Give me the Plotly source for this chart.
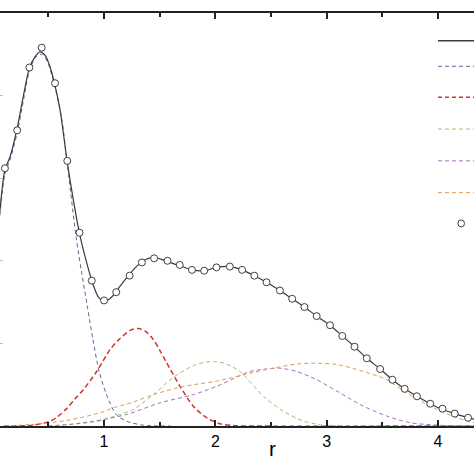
import plotly.graph_objects as go

# measured points (open circles)
r_pts = [0.11, 0.22, 0.33, 0.44, 0.56, 0.67, 0.78, 0.89, 1.00, 1.11, 1.23, 1.34, 1.45,
         1.57, 1.68, 1.79, 1.90, 2.01, 2.13, 2.24, 2.35, 2.46, 2.58, 2.69, 2.80, 2.91,
         3.03, 3.14, 3.25, 3.36, 3.48, 3.59, 3.70, 3.81, 3.93, 4.04, 4.15, 4.27]
g_pts = [3.12, 3.58, 4.34, 4.58, 4.15, 3.21, 2.34, 1.76, 1.52, 1.62, 1.82, 1.98, 2.03,
         2.00, 1.95, 1.89, 1.88, 1.92, 1.93, 1.89, 1.82, 1.74, 1.64, 1.54, 1.44, 1.33,
         1.22, 1.09, 0.96, 0.82, 0.69, 0.56, 0.45, 0.36, 0.27, 0.21, 0.15, 0.10]

# total fit (solid)
r_fit = [0.065, 0.11, 0.156, 0.216, 0.275, 0.329, 0.38, 0.425, 0.47, 0.515, 0.557, 0.605,
         0.668, 0.724, 0.78, 0.84, 0.90, 0.95, 1.00, 1.06, 1.11, 1.17, 1.23, 1.29, 1.34,
         1.40, 1.45, 1.51, 1.57, 1.68, 1.79, 1.90, 2.01, 2.13, 2.24, 2.35, 2.46, 2.58,
         2.69, 2.80, 2.91, 3.03, 3.14, 3.25, 3.36, 3.48, 3.59, 3.70, 3.81, 3.93, 4.04,
         4.15, 4.27, 4.33]
g_fit = [2.60, 3.10, 3.26, 3.58, 3.99, 4.33, 4.47, 4.53, 4.49, 4.35, 4.14, 3.83,
         3.21, 2.74, 2.33, 2.00, 1.72, 1.56, 1.51, 1.55, 1.63, 1.74, 1.84, 1.93, 1.99,
         2.03, 2.04, 2.02, 1.99, 1.94, 1.89, 1.88, 1.92, 1.93, 1.89, 1.82, 1.74, 1.64,
         1.54, 1.44, 1.33, 1.22, 1.09, 0.96, 0.82, 0.69, 0.56, 0.45, 0.36, 0.27, 0.20,
         0.15, 0.10, 0.08]

# partial components (dashed)
r_blue = [0.065, 0.11, 0.16, 0.22, 0.28, 0.33, 0.39, 0.45, 0.50, 0.56, 0.62, 0.67, 0.75,
          0.80, 0.85, 0.90, 0.96, 1.04, 1.11, 1.20, 1.35, 1.60]
g_blue = [2.55, 3.05, 3.24, 3.55, 3.97, 4.30, 4.47, 4.50, 4.38, 4.10, 3.72, 3.18, 2.28,
          1.85, 1.45, 1.05, 0.64, 0.32, 0.14, 0.06, 0.01, 0.0]

r_red = [0.10, 0.20, 0.365, 0.515, 0.58, 0.665, 0.74, 0.814, 0.934, 1.054, 1.129, 1.24,
         1.308, 1.37, 1.443, 1.50, 1.563, 1.683, 1.802, 1.922, 2.042, 2.16, 2.30, 4.33]
g_red = [0.0, 0.003, 0.01, 0.058, 0.11, 0.21, 0.33, 0.44, 0.66, 0.925, 1.04, 1.16,
         1.18, 1.15, 1.046, 0.92, 0.764, 0.48, 0.24, 0.10, 0.027, 0.005, 0.0, 0.0]

r_green = [0.50, 0.784, 0.994, 1.054, 1.263, 1.443, 1.623, 1.802, 1.90, 2.00, 2.08, 2.132,
           2.222, 2.282, 2.431, 2.61, 2.79, 2.97, 3.10, 4.33]
g_green = [0.0, 0.03, 0.07, 0.10, 0.20, 0.38, 0.59, 0.73, 0.77, 0.78, 0.76, 0.73,
           0.66, 0.58, 0.36, 0.18, 0.06, 0.01, 0.0, 0.0]

r_purple = [0.50, 0.70, 0.904, 1.204, 1.503, 1.802, 2.012, 2.222, 2.31, 2.45, 2.58, 2.73,
            2.91, 3.12, 3.33, 3.54, 3.75, 4.00, 4.20, 4.33]
g_purple = [0.0, 0.02, 0.058, 0.14, 0.28, 0.38, 0.48, 0.61, 0.66, 0.69, 0.70, 0.66,
            0.56, 0.40, 0.24, 0.12, 0.04, 0.01, 0.0, 0.0]

r_orange = [0.10, 0.365, 0.665, 0.964, 1.084, 1.263, 1.443, 1.683, 1.802, 2.00, 2.13, 2.31,
            2.52, 2.73, 2.90, 3.09, 3.33, 3.54, 3.72, 3.93, 4.17, 4.33]
g_orange = [0.0, 0.02, 0.067, 0.16, 0.22, 0.29, 0.38, 0.47, 0.50, 0.54, 0.58, 0.64,
            0.70, 0.75, 0.76, 0.745, 0.66, 0.56, 0.40, 0.24, 0.10, 0.04]

x_ticks = [1, 2, 3, 4]

comps = [
    (r_blue, g_blue, "#5d6596", 1.0, "4px,3px"),
    (r_red, g_red, "#d2332e", 1.5, "5px,3px"),
    (r_green, g_green, "#93c56e", 1.0, "4px,3px"),
    (r_purple, g_purple, "#a96fb8", 1.0, "4px,3px"),
    (r_orange, g_orange, "#e39a52", 1.0, "4px,3px"),
]

fig = go.Figure()
for xs, ys, col, w, dash in comps:
    fig.add_trace(go.Scatter(x=xs, y=ys, mode="lines",
                             line=dict(color=col, width=w, dash=dash, shape="spline", smoothing=0.8)))

fig.add_trace(go.Scatter(x=r_fit, y=g_fit, mode="lines",
                         line=dict(color="#3a3a3a", width=1.2, shape="spline", smoothing=0.8)))
fig.add_trace(go.Scatter(x=r_pts, y=g_pts, mode="markers",
                         marker=dict(symbol="circle", size=7, color="white",
                                     line=dict(color="#404040", width=1))))

# legend samples (labels are outside the cropped picture)
leg_y = [0.933, 0.871, 0.796, 0.719, 0.642, 0.565]
leg_style = [("#3a3a3a", 1.5, "solid")] + [(c[2], c[3], "dash") for c in comps]
for yy, (col, w, d) in zip(leg_y, leg_style):
    fig.add_shape(type="line", xref="paper", yref="paper", x0=0.924, x1=1.0, y0=yy, y1=yy,
                  line=dict(color=col, width=w, dash="solid" if d == "solid" else "4px,3px"))
fig.add_shape(type="circle", xref="paper", yref="paper", x0=0.966, x1=0.980,
              y0=0.482, y1=0.499, line=dict(color="#404040", width=1), fillcolor="white")

fig.add_annotation(text="r", xref="paper", yref="paper", x=0.574, y=-0.086,
                   showarrow=False, font=dict(size=21, color="black", family="Arial"))

fig.update_layout(
    width=474, height=474,
    margin=dict(l=0, r=0, t=13, b=48),
    paper_bgcolor="white", plot_bgcolor="white",
    showlegend=False,
    font=dict(family="Arial", color="black"),
    xaxis=dict(range=[0.0658, 4.323], tickvals=x_ticks, ticks="inside", ticklen=6,
               tickwidth=1.5, tickcolor="#222", showline=True, linecolor="#222",
               linewidth=1.5, mirror="ticks", showgrid=False, zeroline=False,
               tickfont=dict(size=16, color="black"),
               minor=dict(dtick=0.5, tick0=0, ticks="inside", ticklen=4, tickwidth=1.5,
                          tickcolor="#222", showgrid=False)),
    yaxis=dict(range=[0, 5], dtick=1, ticks="inside", ticklen=3, tickcolor="#bbbbbb",
               showticklabels=False, showline=False, showgrid=False, zeroline=False),
)

# page has a default 8px body margin; drop it so the figure sits at the window corner
fig.write_html("out.html", config={"displayModeBar": False},
               post_script="document.body.style.margin='0';")
